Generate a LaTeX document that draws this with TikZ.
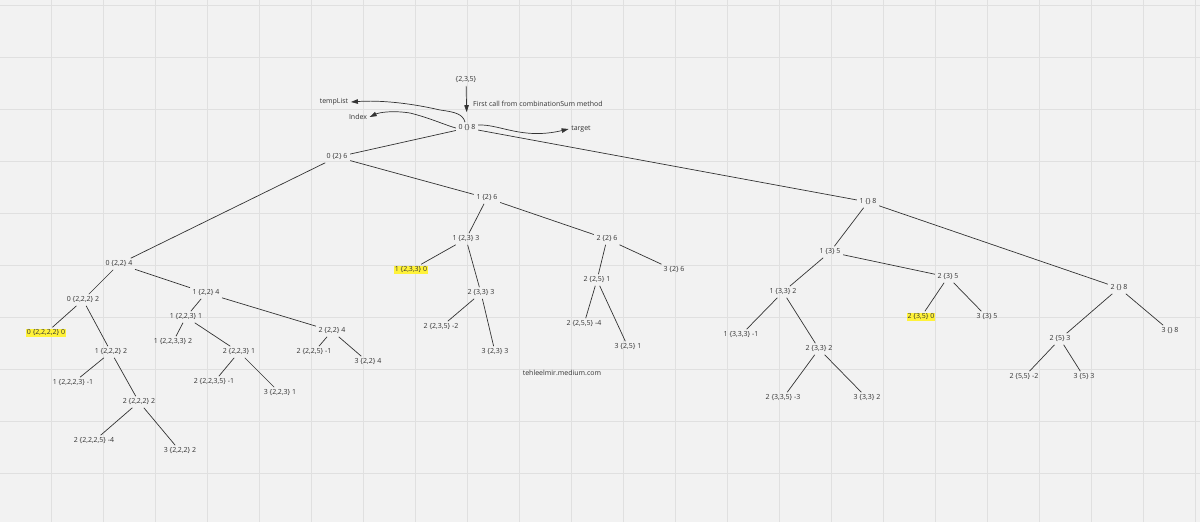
\documentclass[tikz,border=0pt]{standalone}
\usepackage{fontspec}
\setmainfont{Open Sans}
\usepackage{xcolor}
\usepackage{tikz}
\usetikzlibrary{arrows.meta}
\definecolor{paper}{HTML}{F2F2F2}
\definecolor{gridc}{HTML}{E0E0E0}
\definecolor{ink}{HTML}{333333}
\definecolor{hilite}{HTML}{FFF23A}
\tikzset{
  call/.style={inner sep=2.5pt,text=ink,font=\fontsize{7pt}{8pt}\selectfont},
  hit/.style={call,fill=hilite,inner sep=0.6pt,outer sep=2pt},
  edge/.style={draw=ink,line width=0.7pt},
  note/.style={edge,-{Triangle[length=7pt,width=4.5pt]}},
}
\begin{document}
\begin{tikzpicture}[x=1pt,y=-1pt]
    \fill[paper] (0,0) rectangle (1200,522);
    \useasboundingbox (0,0) rectangle (1200,522);
    % board grid
    \foreach \gx in {51,103,...,1200} \draw[gridc,line width=1pt] (\gx,0) -- (\gx,522);
    \foreach \gy in {5,57,...,522} \draw[gridc,line width=1pt] (0,\gy) -- (1200,\gy);
    % first call and its parts
    \node[call] (t) at (467,128) {0 \{\} 8};
    \node[call] (set) at (466,80) {\{2,3,5\}};
    \node[call,anchor=west,inner sep=0pt] (first) at (473,104) {First call from combinationSum method};
    \node[call] (tl) at (334,102) {tempList};
    \node[call] (ix) at (358,117) {Index};
    \node[call] (tg) at (581,129) {target};
    \draw[note,shorten >=10pt] (set) -- (t);
    \draw[note] ([xshift=-2pt]t.north) .. controls (463,114) and (455,112) .. (440,110)
      .. controls (410,103) and (380,100) .. (tl.east);
    \draw[note] (t.west) .. controls (445,125) and (430,118) .. (410,113)
      .. controls (390,110) and (378,113) .. (ix.east);
    \draw[note] ([yshift=3pt]t.east) .. controls (500,124) and (522,140) .. (tg.west);
    % index 0 branch
    \node[call] (t0) at (337,157) {0 \{2\} 6};
    \node[call] (t00) at (119,264) {0 \{2,2\} 4};
    \node[call] (t000) at (83,300) {0 \{2,2,2\} 2};
    \node[hit] (t0000) at (46,333) {0 \{2,2,2,2\} 0};
    \node[call] (t0001) at (111,352) {1 \{2,2,2\} 2};
    \node[call] (t00010) at (73,383) {1 \{2,2,2,3\} -1};
    \node[call] (t00011) at (139,402) {2 \{2,2,2\} 2};
    \node[call] (t000110) at (94,441) {2 \{2,2,2,5\} -4};
    \node[call] (t000111) at (180,451) {3 \{2,2,2\} 2};
    \node[call] (t001) at (206,293) {1 \{2,2\} 4};
    \node[call] (t0010) at (186,317) {1 \{2,2,3\} 1};
    \node[call] (t00100) at (173,342) {1 \{2,2,3,3\} 2};
    \node[call] (t00101) at (239,352) {2 \{2,2,3\} 1};
    \node[call] (t001010) at (214,382) {2 \{2,2,3,5\} -1};
    \node[call] (t001011) at (280,393) {3 \{2,2,3\} 1};
    \node[call] (t0011) at (332,331) {2 \{2,2\} 4};
    \node[call] (t00110) at (314,352) {2 \{2,2,5\} -1};
    \node[call] (t00111) at (368,362) {3 \{2,2\} 4};
    \node[call] (t01) at (487,198) {1 \{2\} 6};
    \node[call] (t010) at (466,239) {1 \{2,3\} 3};
    \node[hit] (t0100) at (411,270) {1 \{2,3,3\} 0};
    \node[call] (t0101) at (481,293) {2 \{3,3\} 3};
    \node[call] (t01010) at (441,327) {2 \{2,3,5\} -2};
    \node[call] (t01011) at (495,352) {3 \{2,3\} 3};
    \node[call] (t011) at (607,239) {2 \{2\} 6};
    \node[call] (t0110) at (597,280) {2 \{2,5\} 1};
    \node[call] (t01100) at (584,324) {2 \{2,5,5\} -4};
    \node[call] (t01101) at (628,347) {3 \{2,5\} 1};
    \node[call] (t0111) at (674,270) {3 \{2\} 6};
    % index 1 branch
    \node[call] (t1) at (868,202) {1 \{\} 8};
    \node[call] (t10) at (830,252) {1 \{3\} 5};
    \node[call] (t100) at (783,292) {1 \{3,3\} 2};
    \node[call] (t1000) at (741,335) {1 \{3,3,3\} -1};
    \node[call] (t1001) at (819,349) {2 \{3,3\} 2};
    \node[call] (t10010) at (783,398) {2 \{3,3,5\} -3};
    \node[call] (t10011) at (867,398) {3 \{3,3\} 2};
    \node[call] (t101) at (948,277) {2 \{3\} 5};
    \node[hit] (t1010) at (921,317) {2 \{3,5\} 0};
    \node[call] (t1011) at (987,317) {3 \{3\} 5};
    \node[call] (t11) at (1119,288) {2 \{\} 8};
    \node[call] (t110) at (1060,339) {2 \{5\} 3};
    \node[call] (t1100) at (1024,377) {2 \{5,5\} -2};
    \node[call] (t1101) at (1084,377) {3 \{5\} 3};
    \node[call] (t111) at (1170,331) {3 \{\} 8};
    \node[call] (site) at (562,373) {tehleelmir.medium.com};
    % recursion edges
    \foreach \p/\c in {t/t0, t/t1, t0/t00, t0/t01, t00/t000, t00/t001,
        t000/t0000, t000/t0001, t0001/t00010, t0001/t00011, t00011/t000110, t00011/t000111,
        t001/t0010, t001/t0011, t0010/t00100, t0010/t00101, t00101/t001010, t00101/t001011,
        t0011/t00110, t0011/t00111, t01/t010, t01/t011, t010/t0100, t010/t0101,
        t0101/t01010, t0101/t01011, t011/t0110, t011/t0111, t0110/t01100, t0110/t01101,
        t1/t10, t1/t11, t10/t100, t10/t101, t100/t1000, t100/t1001, t1001/t10010, t1001/t10011,
        t101/t1010, t101/t1011, t11/t110, t11/t111, t110/t1100, t110/t1101}
      \draw[edge] (\p) -- (\c);
\end{tikzpicture}
\end{document}
